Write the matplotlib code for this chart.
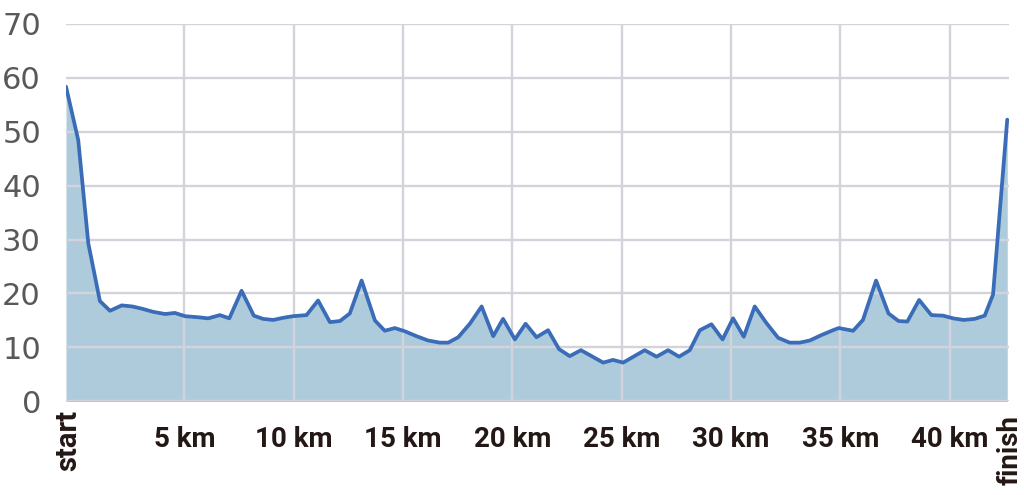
#!/usr/bin/env python3
"""Marathon course elevation profile (m) vs distance (km)."""
import matplotlib
matplotlib.use("Agg")
import matplotlib.pyplot as plt
from matplotlib.transforms import blended_transform_factory

# distance along the course (km) and elevation (m)
dist = [-0.41, 0.15, 0.61, 1.14, 1.60, 2.14, 2.62, 3.05, 3.58, 4.12,
        4.57, 5.03, 5.64, 6.09, 6.63, 7.06, 7.62, 8.18, 8.60, 9.07,
        9.52, 9.98, 10.59, 11.12, 11.66, 12.12, 12.57, 13.11, 13.72, 14.17,
        14.63, 15.09, 15.62, 16.15, 16.69, 17.07, 17.53, 18.06, 18.60, 19.13,
        19.58, 20.12, 20.61, 21.11, 21.64, 22.14, 22.63, 23.14, 23.63, 24.16,
        24.61, 25.07, 26.06, 26.60, 27.13, 27.63, 28.12, 28.58, 29.11, 29.62,
        30.10, 30.59, 31.09, 31.63, 32.16, 32.69, 33.15, 33.61, 34.14, 34.67,
        34.93, 35.59, 36.04, 36.64, 37.21, 37.67, 38.07, 38.61, 39.17, 39.70,
        40.16, 40.65, 41.15, 41.61, 41.99, 42.64]
elev = [58.3, 48.4, 29.3, 18.6, 16.8, 17.8, 17.6, 17.2, 16.6, 16.2,
        16.4, 15.8, 15.6, 15.4, 16.0, 15.4, 20.5, 15.9, 15.3, 15.1,
        15.5, 15.8, 16.0, 18.7, 14.7, 14.9, 16.3, 22.4, 15.0, 13.1,
        13.6, 13.0, 12.1, 11.3, 10.9, 10.9, 11.9, 14.4, 17.6, 12.1,
        15.3, 11.5, 14.4, 11.9, 13.2, 9.7, 8.4, 9.5, 8.4, 7.2,
        7.7, 7.2, 9.5, 8.3, 9.5, 8.3, 9.5, 13.2, 14.3, 11.5,
        15.4, 12.0, 17.6, 14.5, 11.8, 10.9, 10.9, 11.3, 12.3, 13.2,
        13.6, 13.1, 15.1, 22.4, 16.3, 14.9, 14.8, 18.8, 16.0, 15.9,
        15.4, 15.1, 15.3, 15.9, 19.8, 52.2]

km_ticks = [5, 10, 15, 20, 25, 30, 35, 40]
km_labels = [f"{k} km" for k in km_ticks]
y_ticks = [0, 10, 20, 30, 40, 50, 60, 70]

lab_font = ["Roboto", "DejaVu Sans"]

fig = plt.figure(figsize=(10.24, 4.95), dpi=100)
ax = fig.add_axes([66 / 1024, 0.1889, 943 / 1024, 0.7636])

ax.fill_between(dist, elev, 0, color="#AECBDB", lw=0, zorder=1)
ax.plot(dist, elev, color="#3A6CB8", lw=2.7, solid_joinstyle="round",
        solid_capstyle="round", zorder=3)

ax.set_xlim(dist[0], dist[-1] + 0.08)
ax.set_ylim(0, 70)
ax.set_yticks(y_ticks)
ax.set_xticks(km_ticks)
ax.set_xticklabels(km_labels)

ax.grid(True, color="#D3D3DB", lw=1.7, zorder=2)
ax.set_axisbelow(False)
ax.axhline(0, color="#C9D5DF", lw=2, zorder=2)
for s in ax.spines.values():
    s.set_visible(False)

ax.tick_params(axis="both", length=0)
ax.tick_params(axis="y", pad=18, labelsize=22, labelcolor="#595959")
ax.tick_params(axis="x", pad=18, labelsize=20, labelcolor="#231815")
for lbl in ax.get_xticklabels():
    lbl.set_fontfamily(lab_font)
    lbl.set_fontweight("bold")

tr = blended_transform_factory(ax.transData, ax.transAxes)
ax.text(dist[0] + 0.1, -0.022, "start", transform=tr, rotation=90,
        ha="center", va="top", fontsize=21, fontweight="bold",
        family=lab_font, color="#231815")
ax.text(dist[-1] + 0.15, -0.035, "finish", transform=tr, rotation=90,
        ha="center", va="top", fontsize=20, fontweight="bold",
        family=lab_font, color="#231815")

fig.savefig("out.png", dpi=100)
